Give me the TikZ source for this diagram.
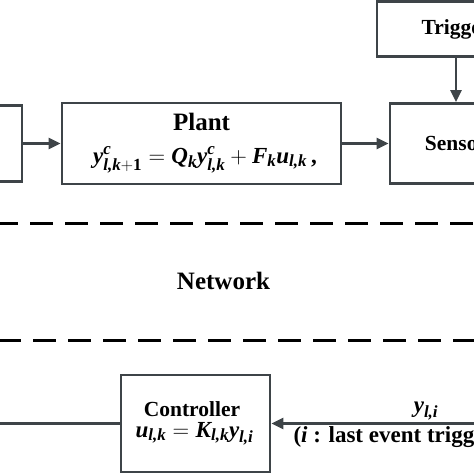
\RequirePackage{fix-cm}
\documentclass[tikz,border=0pt]{standalone}
\usepackage{amsmath}
\usepackage{fontspec}
\setmainfont{Liberation Serif}
\usetikzlibrary{arrows.meta}
\definecolor{linegray}{RGB}{62,68,72}
\newcommand{\bv}[1]{\text{\bfseries\itshape #1}}
\DeclareMathSizes{23}{23}{17}{13}

\begin{document}
\begin{tikzpicture}[x=1pt,y=1pt,yscale=-1,xscale=1,
	blk/.style={draw=linegray,line width=2.7pt,fill=white},
	arr/.style={draw=linegray,line width=2.5pt,-{Triangle[length=12pt,width=11pt]}},
	wire/.style={draw=linegray,line width=2.5pt},
	netline/.style={line width=3pt,dash pattern=on 23pt off 12pt},
	big/.style={font=\fontsize{25}{30}\selectfont\bfseries},
	mid/.style={font=\fontsize{21.5}{25}\selectfont\bfseries},
	eqn/.style={font=\fontsize{23}{27}\selectfont}]
	\useasboundingbox (0,0) rectangle (474,474);
	\clip (0,0) rectangle (474,474);
	
	%Blocks
	\node[blk,minimum width=102pt,minimum height=76pt] (act) at (-29,143.5) {};
	\node[blk,minimum width=279pt,minimum height=81pt] (plant) at (201.5,143.5) {};
	\node[blk,mid,minimum width=132pt,minimum height=80pt] (sensor) at (456,143.5) {Sensor};
	\node[blk,mid,minimum width=158pt,minimum height=55pt] (trigger) at (456,29) {Trigger};
	\node[blk,minimum width=149pt,minimum height=97pt] (ctrl) at (195.5,423.5) {};
	
	% Text Node
	\node[big,anchor=base] (plantname) at (201.5,130) {Plant};
	% Text Node
	\node[eqn,anchor=base] (planteq) at (205,163) {$\bv{y}^{\bv{c}}_{\bv{l,k}+\textbf{1}}=\bv{Q}_{\bv{k}}\bv{y}^{\bv{c}}_{\bv{l,k}}+\bv{F}_{\bv{k}}\bv{u}_{\bv{l,k}}\,\textbf{,}$};
	% Text Node
	\node[mid,anchor=base] (ctrlname) at (192,416.5) {Controller};
	% Text Node
	\node[eqn,anchor=base] (ctrleq) at (194.5,437) {$\bv{u}_{\bv{l,k}}=\bv{K}_{\bv{l,k}}\bv{y}_{\bv{l,i}}$};
	% Text Node
	\node[big,anchor=base] (net) at (223.5,289) {Network};
	
	%Network borders
	\draw[netline] (-5,223) -- (480,223);
	\draw[netline] (-2,340) -- (480,340);
	
	%Connectors
	\draw[arr] (act.east) -- (plant.west);
	\draw[arr] (plant.east) -- (sensor.west);
	\draw[arr] (trigger.south) -- (sensor.north);
	\coordinate (ctrlin) at (490,423.5);
	\coordinate (ctrlout) at (-10,423.5);
	\draw[arr] (ctrlin) -- (ctrl.east);
	\draw[wire] (ctrl.west) -- (ctrlout);
	
	% Text Node
	\node[eqn,anchor=base] (yli) at (426,412) {$\bv{y}_{\bv{l,i}}$};
	% Text Node
	\node[eqn,anchor=base west] (lastev) at (290,442) {\textbf{(}$\bv{i}$\textbf{ : last event triggered)}};
\end{tikzpicture}
\end{document}
